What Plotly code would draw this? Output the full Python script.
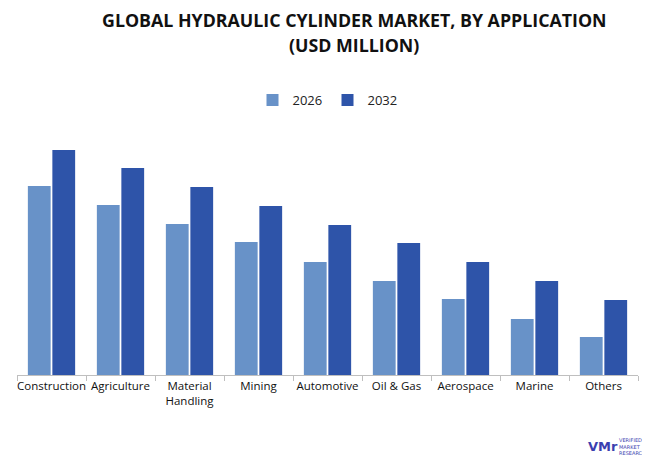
import plotly.graph_objects as go

categories = ["Construction", "Agriculture", "Material<br>Handling", "Mining", "Automotive",
              "Oil & Gas", "Aerospace", "Marine", "Others"]
values_2026 = [189, 170, 151, 133, 113, 94, 76, 56, 38]
values_2032 = [225, 207, 188, 169, 150, 132, 113, 94, 75]
title_lines = ["GLOBAL HYDRAULIC CYLINDER MARKET, BY APPLICATION", "(USD MILLION)"]

fig = go.Figure()
fig.add_trace(go.Bar(name="2026", x=categories, y=values_2026, marker_color="#6892C8",
                     marker_line_width=0))
fig.add_trace(go.Bar(name="2032", x=categories, y=values_2032, marker_color="#2E54A9",
                     marker_line_width=0))

fig.update_layout(
    width=650, height=460,
    paper_bgcolor="white", plot_bgcolor="white",
    margin=dict(l=9, r=20, t=127, b=93, autoexpand=False),
    barmode="group", bargap=0.29, bargroupgap=0.07,
    legend=dict(orientation="h", x=0.5, xanchor="center", y=1.146, yanchor="middle",
                font=dict(family="Open Sans", size=13, color="#222222"),
                itemwidth=30, entrywidth=30, entrywidthmode="pixels", traceorder="normal"),
    font=dict(family="Open Sans", color="#111111"),
    showlegend=True,
)
fig.update_xaxes(showline=True, linecolor="#bfbfbf", linewidth=1,
                 ticks="outside", tickson="boundaries", ticklen=5, tickcolor="#bfbfbf",
                 tickangle=0, automargin=False,
                 tickfont=dict(family="Open Sans", size=11.5, color="#111111"),
                 showgrid=False)
fig.update_yaxes(range=[0, 240], visible=False, showgrid=False, automargin=False)

for txt, yy in zip(title_lines, [1.479, 1.375]):
    fig.add_annotation(text="<b>" + txt + "</b>", x=0.543, y=yy, xref="paper", yref="paper",
                       xanchor="center", yanchor="middle", showarrow=False,
                       font=dict(family="Open Sans", size=17.8, color="#111111"))

fig.add_annotation(text="<b>VMr</b>", x=0.944, y=-0.296, xref="paper", yref="paper",
                   xanchor="center", yanchor="middle",
                   showarrow=False, font=dict(family="DejaVu Sans", size=13, color="#3b3fb0"))
fig.add_annotation(text="VERIFIED<br>MARKET<br>RESEARCH", x=0.966, y=-0.296, xref="paper",
                   yref="paper", showarrow=False, align="left", xanchor="left", yanchor="middle",
                   font=dict(family="DejaVu Sans", size=5, color="#3b3fb0"))

fig.write_html("out.html")
